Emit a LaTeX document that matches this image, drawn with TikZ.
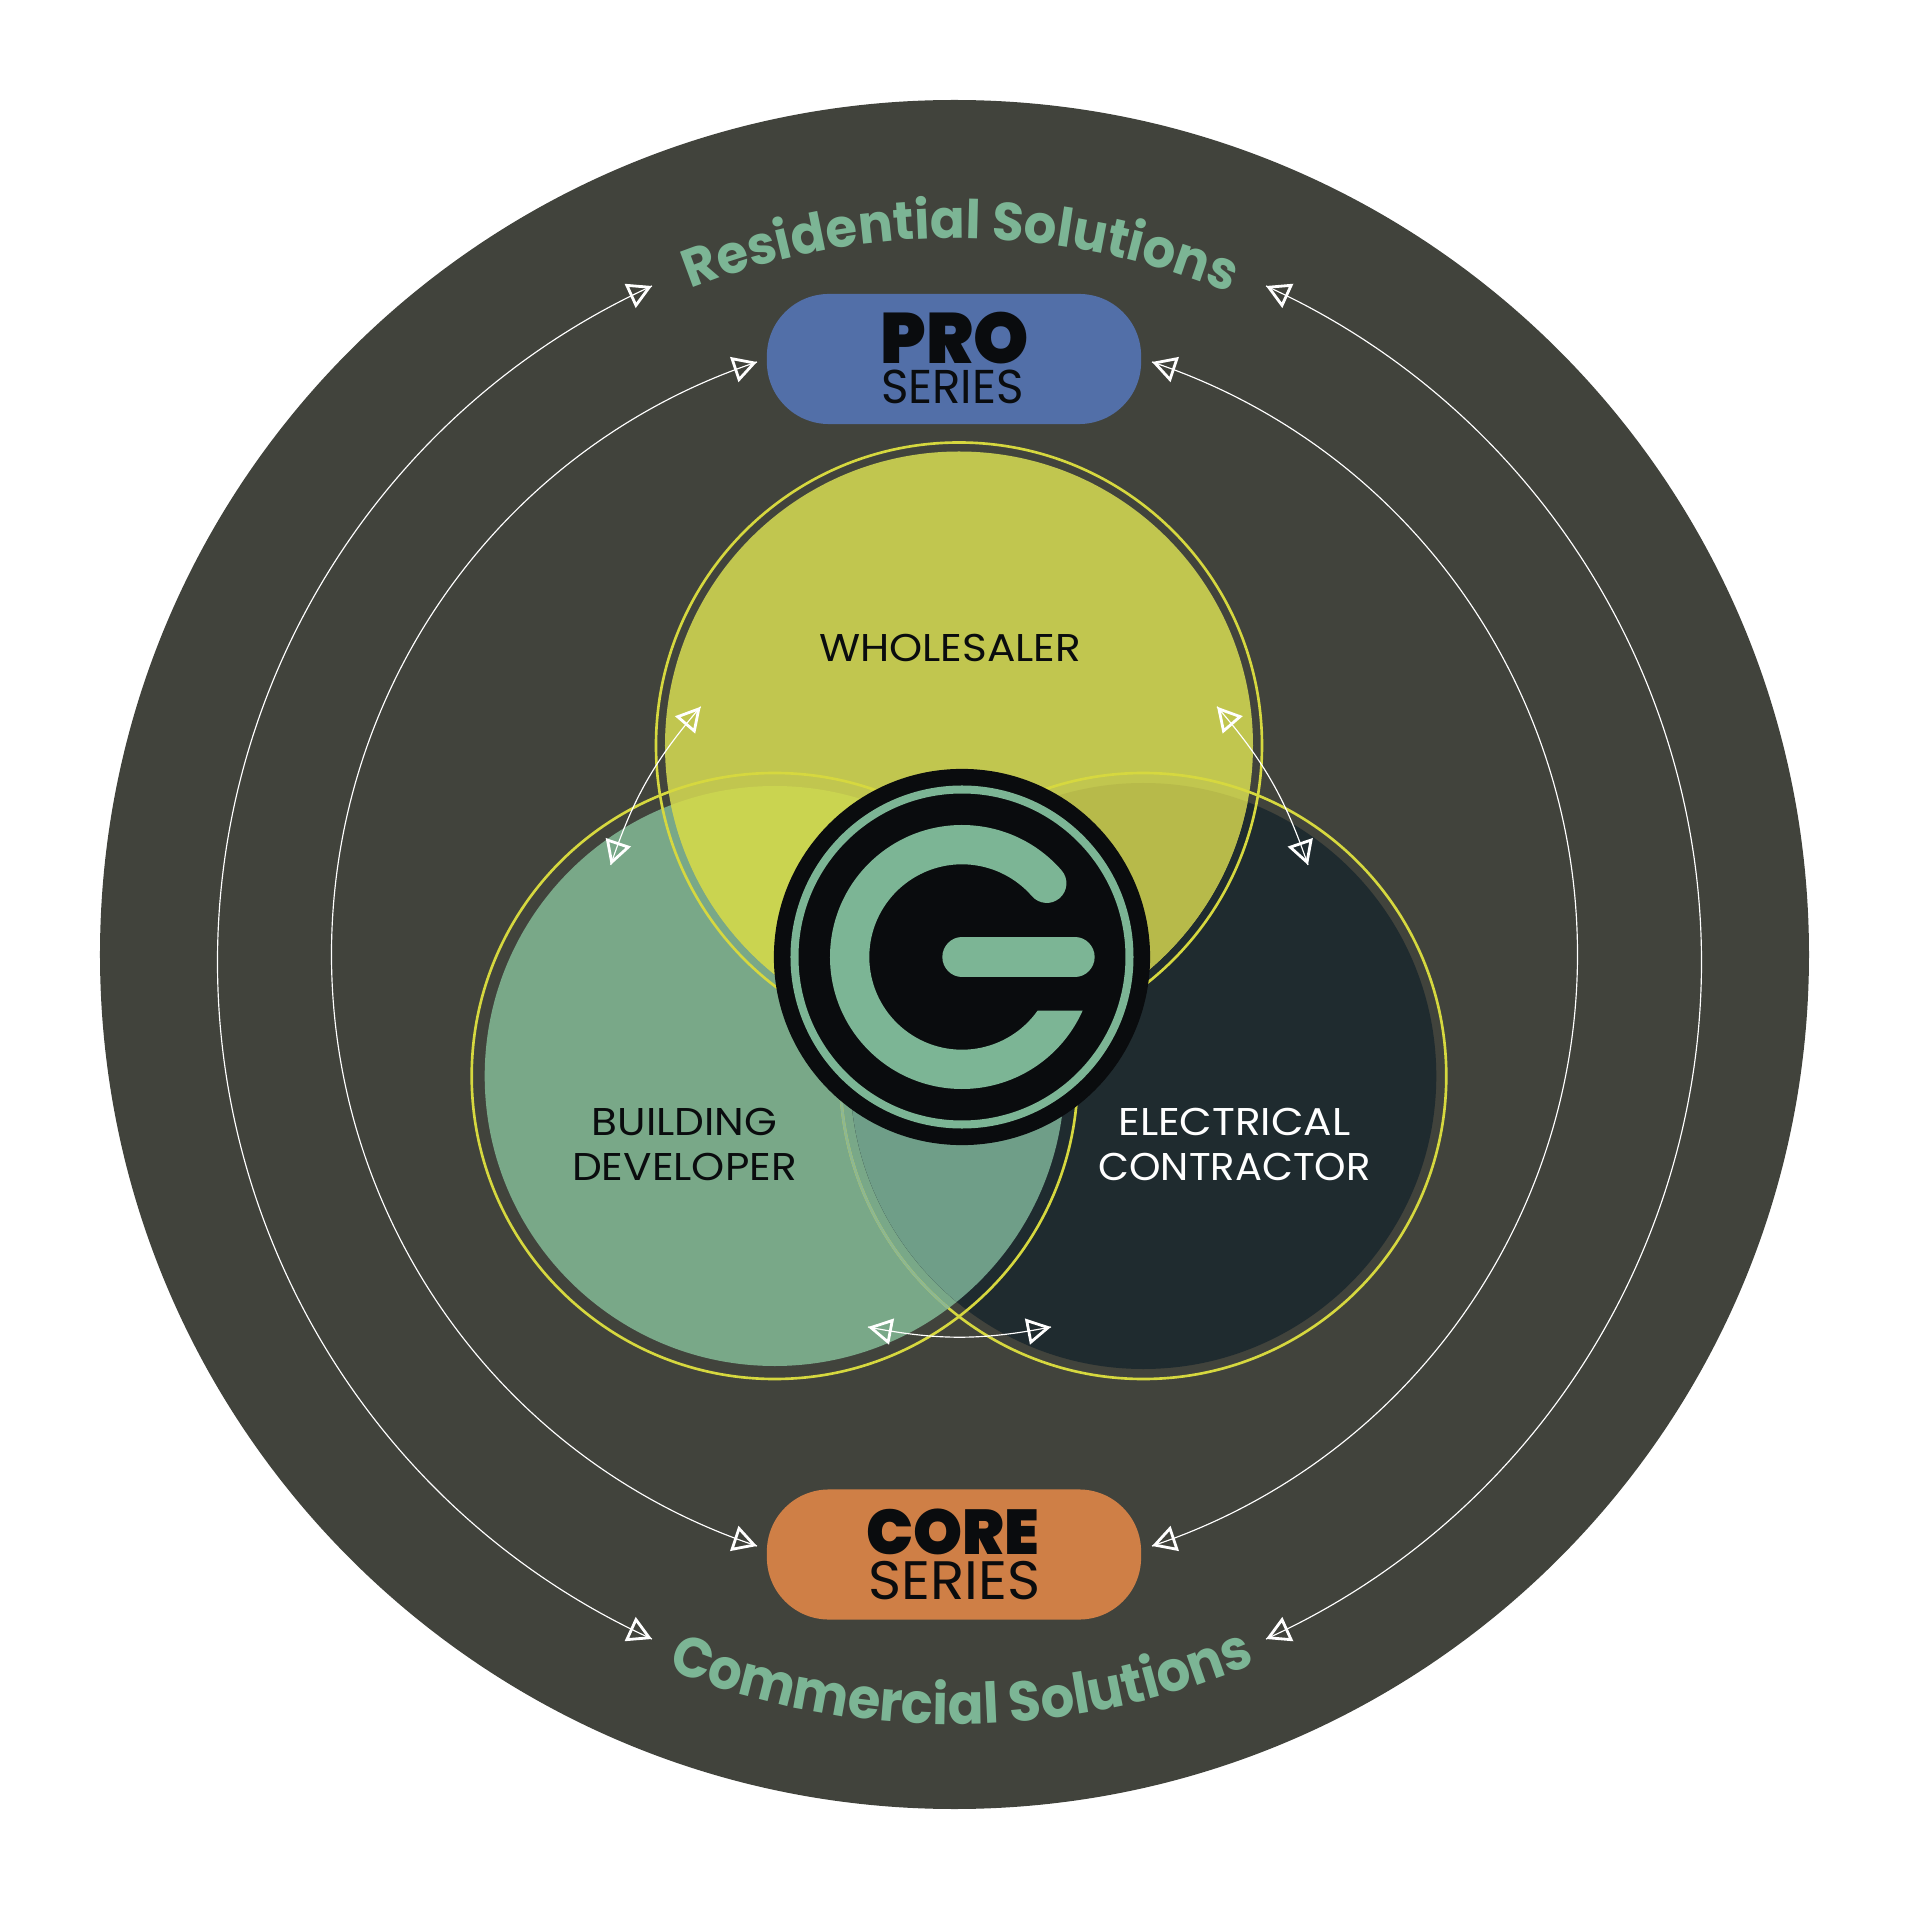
\documentclass[tikz,border=0pt]{standalone}
\usepackage{fontspec}
\setmainfont{Poppins}
\newfontfamily\venfont{Poppins}[FakeStretch=1.09]
\newfontfamily\serfont{Poppins}[FakeStretch=0.985]
\newfontfamily\serwide{Poppins}[FakeStretch=1.04]
\newfontfamily\heavyfont{Poppins Black}[FakeStretch=0.985]
\newfontfamily\arcres{Poppins}[FakeStretch=0.96]
\newfontfamily\arccom{Poppins}[FakeStretch=0.938]
\usetikzlibrary{arrows.meta,decorations.text}

\definecolor{discgray}{HTML}{41433C}
\definecolor{probl}{HTML}{526FA8}
\definecolor{coreor}{HTML}{CF7F46}
\definecolor{mint}{HTML}{7CB595}
\definecolor{topyel}{HTML}{C1C64F}
\definecolor{topleft}{HTML}{CAD450}
\definecolor{topright}{HTML}{B7BA4A}
\definecolor{leftgr}{HTML}{79A888}
\definecolor{rightnv}{HTML}{1F2B2F}
\definecolor{lrgr}{HTML}{6F9E88}
\definecolor{logobk}{HTML}{0A0C0E}
\definecolor{ringyel}{HTML}{D6D83F}
\definecolor{ringfaint}{HTML}{8DB792}

\tikzset{
    pill/.style={rectangle, rounded corners=0.62cm, minimum width=3.74cm, minimum height=1.30cm, inner sep=0},
    link/.style={white, line width=0.33pt,
        postaction={tips=true,
            {Triangle[open, length=0.24cm, width=0.26cm, line width=0.8pt]}-{Triangle[open, length=0.24cm, width=0.26cm, line width=0.8pt]}}},
    rim/.style={draw=ringyel, line width=0.75pt},
    venlabel/.style={anchor=base, inner sep=0, font=\venfont\fontsize{11}{13}\selectfont},
    serlabel/.style={anchor=base, inner sep=0, text=logobk, font=\serfont\fontsize{#1}{#1}\selectfont},
    toplabel/.style={anchor=base, inner sep=0, text=logobk, font=\heavyfont\fontsize{#1}{#1}\selectfont}
}

\begin{document}
\begin{tikzpicture}[x=0.01cm, y=0.01cm]
    \useasboundingbox (-954.5,-954.5) rectangle (954.5,954.5);

    % Outer disc
    \fill[discgray] (0,0) circle[radius=854.5];

    % Venn circles
    \fill[leftgr] (-179.8,-121.5) circle[radius=290];
    \fill[rightnv] (188.8,-121.5) circle[radius=293];
    \fill[topyel] (4.5,209) circle[radius=294];

    % Overlaps
    \begin{scope}
        \clip (4.5,209) circle[radius=294];
        \fill[topleft] (-179.8,-121.5) circle[radius=290];
        \fill[topright] (188.8,-121.5) circle[radius=293];
    \end{scope}
    \begin{scope}
        \clip (-179.8,-121.5) circle[radius=290];
        \fill[lrgr] (188.8,-121.5) circle[radius=293];
    \end{scope}

    % Yellow rims
    \draw[rim] (-179.8,-121.5) circle[radius=303];
    \draw[rim] (188.8,-121.5) circle[radius=303];
    \draw[rim] (4.5,209) circle[radius=303];
    \begin{scope}
        \clip (-179.8,-121.5) circle[radius=290];
        \draw[rim, draw=ringfaint] (188.8,-121.5) circle[radius=303];
    \end{scope}

    % Series pills
    \node[pill, fill=probl] (proPill) at (-0.5,595.5) {};
    \node[pill, fill=coreor] (corePill) at (-0.5,-600) {};
    \node[toplabel=20.3] (proTop) at (0,590.5) {PRO};
    \node[serlabel=13.5] (proSub) at (-2,550.5) {SERIES};
    \node[toplabel=18] (coreTop) at (-2,-599.5) {CORE};
    \node[serlabel=15.4, font=\serwide\fontsize{15.4}{15.4}\selectfont] (coreSub) at (0,-644.5) {SERIES};

    % Arc titles
    \path[decorate, decoration={text along path, text align=center,
        text={|\arcres\bfseries\fontsize{15.2}{17}\selectfont\color{mint}|Residential Solutions}}]
        (111.5:716) arc[start angle=111.5, end angle=67.5, radius=716];
    \path[decorate, decoration={text along path, text align=center,
        text={|\arccom\bfseries\fontsize{16}{18}\selectfont\color{mint}|Commercial Solutions}}]
        (248.7:770) arc[start angle=248.7, end angle=292.4, radius=770];

    % Venn labels
    \node[venlabel, text=logobk] (wholesaler) at (-4.5,292.5) {WHOLESALER};
    \node[venlabel, text=logobk] (building) at (-270,-180.5) {BUILDING};
    \node[venlabel, text=logobk] (developer) at (-270,-225.5) {DEVELOPER};
    \node[venlabel, text=white] (electrical) at (280,-180.5) {ELECTRICAL};
    \node[venlabel, text=white] (contractor) at (280,-225.5) {\scalebox{0.95}[1]{CONTRACTOR}};

    % Arrow ends
    \coordinate (resL) at (-302.5,668.5);
    \coordinate (resR) at (311.5,668.5);
    \coordinate (comL) at (-302.5,-684.5);
    \coordinate (comR) at (311.5,-684.5);
    \coordinate (outL) at (-737,-7.5);
    \coordinate (outR) at (747,-7.5);
    \coordinate (proL) at (-197.5,592.5);
    \coordinate (proR) at (197.5,592.5);
    \coordinate (coreL) at (-197.5,-591.5);
    \coordinate (coreR) at (197.5,-591.5);
    \coordinate (innL) at (-623,0);
    \coordinate (innR) at (623,0);
    \coordinate (topL) at (-253.8,247.8);
    \coordinate (topR) at (262.5,247.8);
    \coordinate (devT) at (-343.8,89.5);
    \coordinate (conT) at (353.5,89.5);
    \coordinate (devB) at (-86.5,-372.5);
    \coordinate (conB) at (96.5,-372.5);

    % Long arrows
    \draw[link] (resL) to[out=204.5, in=90, looseness=0.925] (outL)
        to[out=270, in=155.5, looseness=0.925] (comL);
    \draw[link] (resR) to[out=-24.4, in=90, looseness=0.925] (outR)
        to[out=-90, in=24.4, looseness=0.925] (comR);
    \draw[link] (proL) to[out=198.4, in=90, looseness=0.94] (innL)
        to[out=270, in=161.6, looseness=0.94] (coreL);
    \draw[link] (proR) to[out=-18.4, in=90, looseness=0.94] (innR)
        to[out=-90, in=18.4, looseness=0.94] (coreR);

    % Short arrows
    \draw[link] (topL) to[bend right=11] (devT);
    \draw[link] (topR) to[bend left=11] (conT);
    \draw[link] (devB) to[bend right=11] (conB);

    % Logo
    \node[circle, fill=logobk, minimum size=3.76cm, inner sep=0] (logo) at (7.5,-2.5) {};
    \draw[mint, line width=2.28pt] (logo.center) circle[radius=167.5];
    \begin{scope}[shift={(logo.center)}]
        \fill[mint] (41:132) arc[start angle=41, end angle=336, radius=132]
            -- (324.6:92.7) arc[start angle=324.6, end angle=41, radius=92.7]
            arc[start angle=221, end angle=401, radius=19.65] -- cycle;
        \draw[mint, line width=11.18pt, line cap=round] (0,0) -- (113,0);
    \end{scope}
\end{tikzpicture}
\end{document}
